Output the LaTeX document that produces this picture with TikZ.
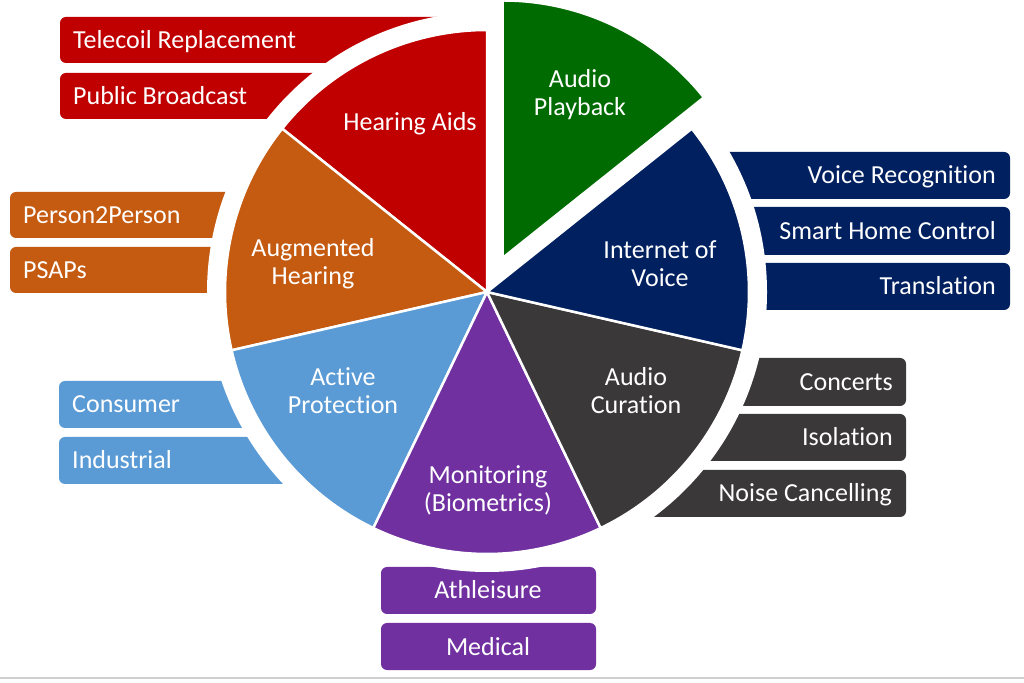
\documentclass[tikz,border=0pt]{standalone}
\usepackage{fontspec}
\setmainfont{Carlito}[Ligatures={NoCommon}]
\definecolor{cRed}{HTML}{C00000}
\definecolor{cOrange}{HTML}{C55A11}
\definecolor{cBlue}{HTML}{5B9BD5}
\definecolor{cPurple}{HTML}{7030A0}
\definecolor{cGray}{HTML}{3A3838}
\definecolor{cNavy}{HTML}{002060}
\definecolor{cGreen}{HTML}{006B00}
\definecolor{cLine}{HTML}{D0D0D0}
\begin{document}
\begin{tikzpicture}[x=1pt,y=1pt,
  boxfill/.style={rounded corners=6pt},
  boxtext/.style={text=white,inner sep=0pt,font=\fontsize{26}{28}\selectfont},
  segtext/.style={text=white,inner sep=0pt,align=center,font=\fontsize{26}{28}\selectfont},
  sector/.style={draw=white,line width=2.5pt}]
\useasboundingbox (0,0) rectangle (1024,682);
\fill[white] (0,0) rectangle (1024,682);
\coordinate (C) at (487,390);
\coordinate (G) at (503,425);
% label boxes (behind the pie)
\fill[cRed,boxfill] (60,619) rectangle (487,665);
\fill[cRed,boxfill] (60,563) rectangle (487,609);
\fill[cOrange,boxfill] (10,444) rectangle (487,490);
\fill[cOrange,boxfill] (10,389) rectangle (487,435);
\fill[cBlue,boxfill] (59,254) rectangle (487,301);
\fill[cBlue,boxfill] (59,198) rectangle (487,245);
\fill[cNavy,boxfill] (487,483) rectangle (1010,530);
\fill[cNavy,boxfill] (487,427) rectangle (1010,475);
\fill[cNavy,boxfill] (487,372) rectangle (1010,419);
\fill[cGray,boxfill] (487,276) rectangle (906,324);
\fill[cGray,boxfill] (487,221) rectangle (906,268);
\fill[cGray,boxfill] (487,165) rectangle (906,212);
\fill[cPurple,boxfill] (381,68) rectangle (596,115);
\fill[cPurple,boxfill] (381,12) rectangle (596,59);
% white halo
\fill[white] (C) circle (280);
% sectors
\filldraw[cRed,sector] (C) -- ++(90:262) arc[start angle=90,end angle=141.43,radius=262] -- cycle;
\filldraw[cOrange,sector] (C) -- ++(141.43:262) arc[start angle=141.43,end angle=192.86,radius=262] -- cycle;
\filldraw[cBlue,sector] (C) -- ++(192.86:262) arc[start angle=192.86,end angle=244.29,radius=262] -- cycle;
\filldraw[cPurple,sector] (C) -- ++(244.29:262) arc[start angle=244.29,end angle=295.71,radius=262] -- cycle;
\filldraw[cGray,sector] (C) -- ++(295.71:262) arc[start angle=295.71,end angle=347.14,radius=262] -- cycle;
\filldraw[cNavy,sector] (C) -- ++(347.14:262) arc[start angle=347.14,end angle=398.57,radius=262] -- cycle;
\filldraw[cGreen,draw=white,line width=1.5pt] (G) -- ++(38.57:256) arc[start angle=38.57,end angle=90,radius=256] -- cycle;
% sector labels
\node[segtext] (playback) at (580,587) {Audio\\Playback};
\node[segtext] (hearing) at (410,558) {Hearing Aids};
\node[segtext] (augmented) at (313,418) {Augmented\\Hearing};
\node[segtext] (active) at (343,291) {Active\\Protection};
\node[segtext] (monitoring) at (488,192) {Monitoring\\(Biometrics)};
\node[segtext] (curation) at (636,291) {Audio\\Curation};
\node[segtext] (iov) at (660,418) {Internet of\\Voice};
% box labels
\node[boxtext,anchor=base west] (telecoil) at (73,633) {Telecoil Replacement};
\node[boxtext,anchor=base west] (broadcast) at (73,577) {Public Broadcast};
\node[boxtext,anchor=base west] (p2p) at (23,458) {Person2Person};
\node[boxtext,anchor=base west] (psaps) at (23,403) {PSAPs};
\node[boxtext,anchor=base west] (consumer) at (72,269) {Consumer};
\node[boxtext,anchor=base west] (industrial) at (72,213) {Industrial};
\node[boxtext,anchor=base east] (voice) at (996,498) {Voice Recognition};
\node[boxtext,anchor=base east] (smarthome) at (996,442) {Smart Home Control};
\node[boxtext,anchor=base east] (translation) at (996,387) {Translation};
\node[boxtext,anchor=base east] (concerts) at (893,291) {Concerts};
\node[boxtext,anchor=base east] (isolation) at (893,236) {Isolation};
\node[boxtext,anchor=base east] (noise) at (892,180) {Noise Cancelling};
\node[boxtext,anchor=base] (athleisure) at (488,83) {Athleisure};
\node[boxtext,anchor=base] (medical) at (488,27) {Medical};
% bottom rule
\draw[cLine,line width=1.5pt] (0,4) -- (1024,4);
\end{tikzpicture}
\end{document}
